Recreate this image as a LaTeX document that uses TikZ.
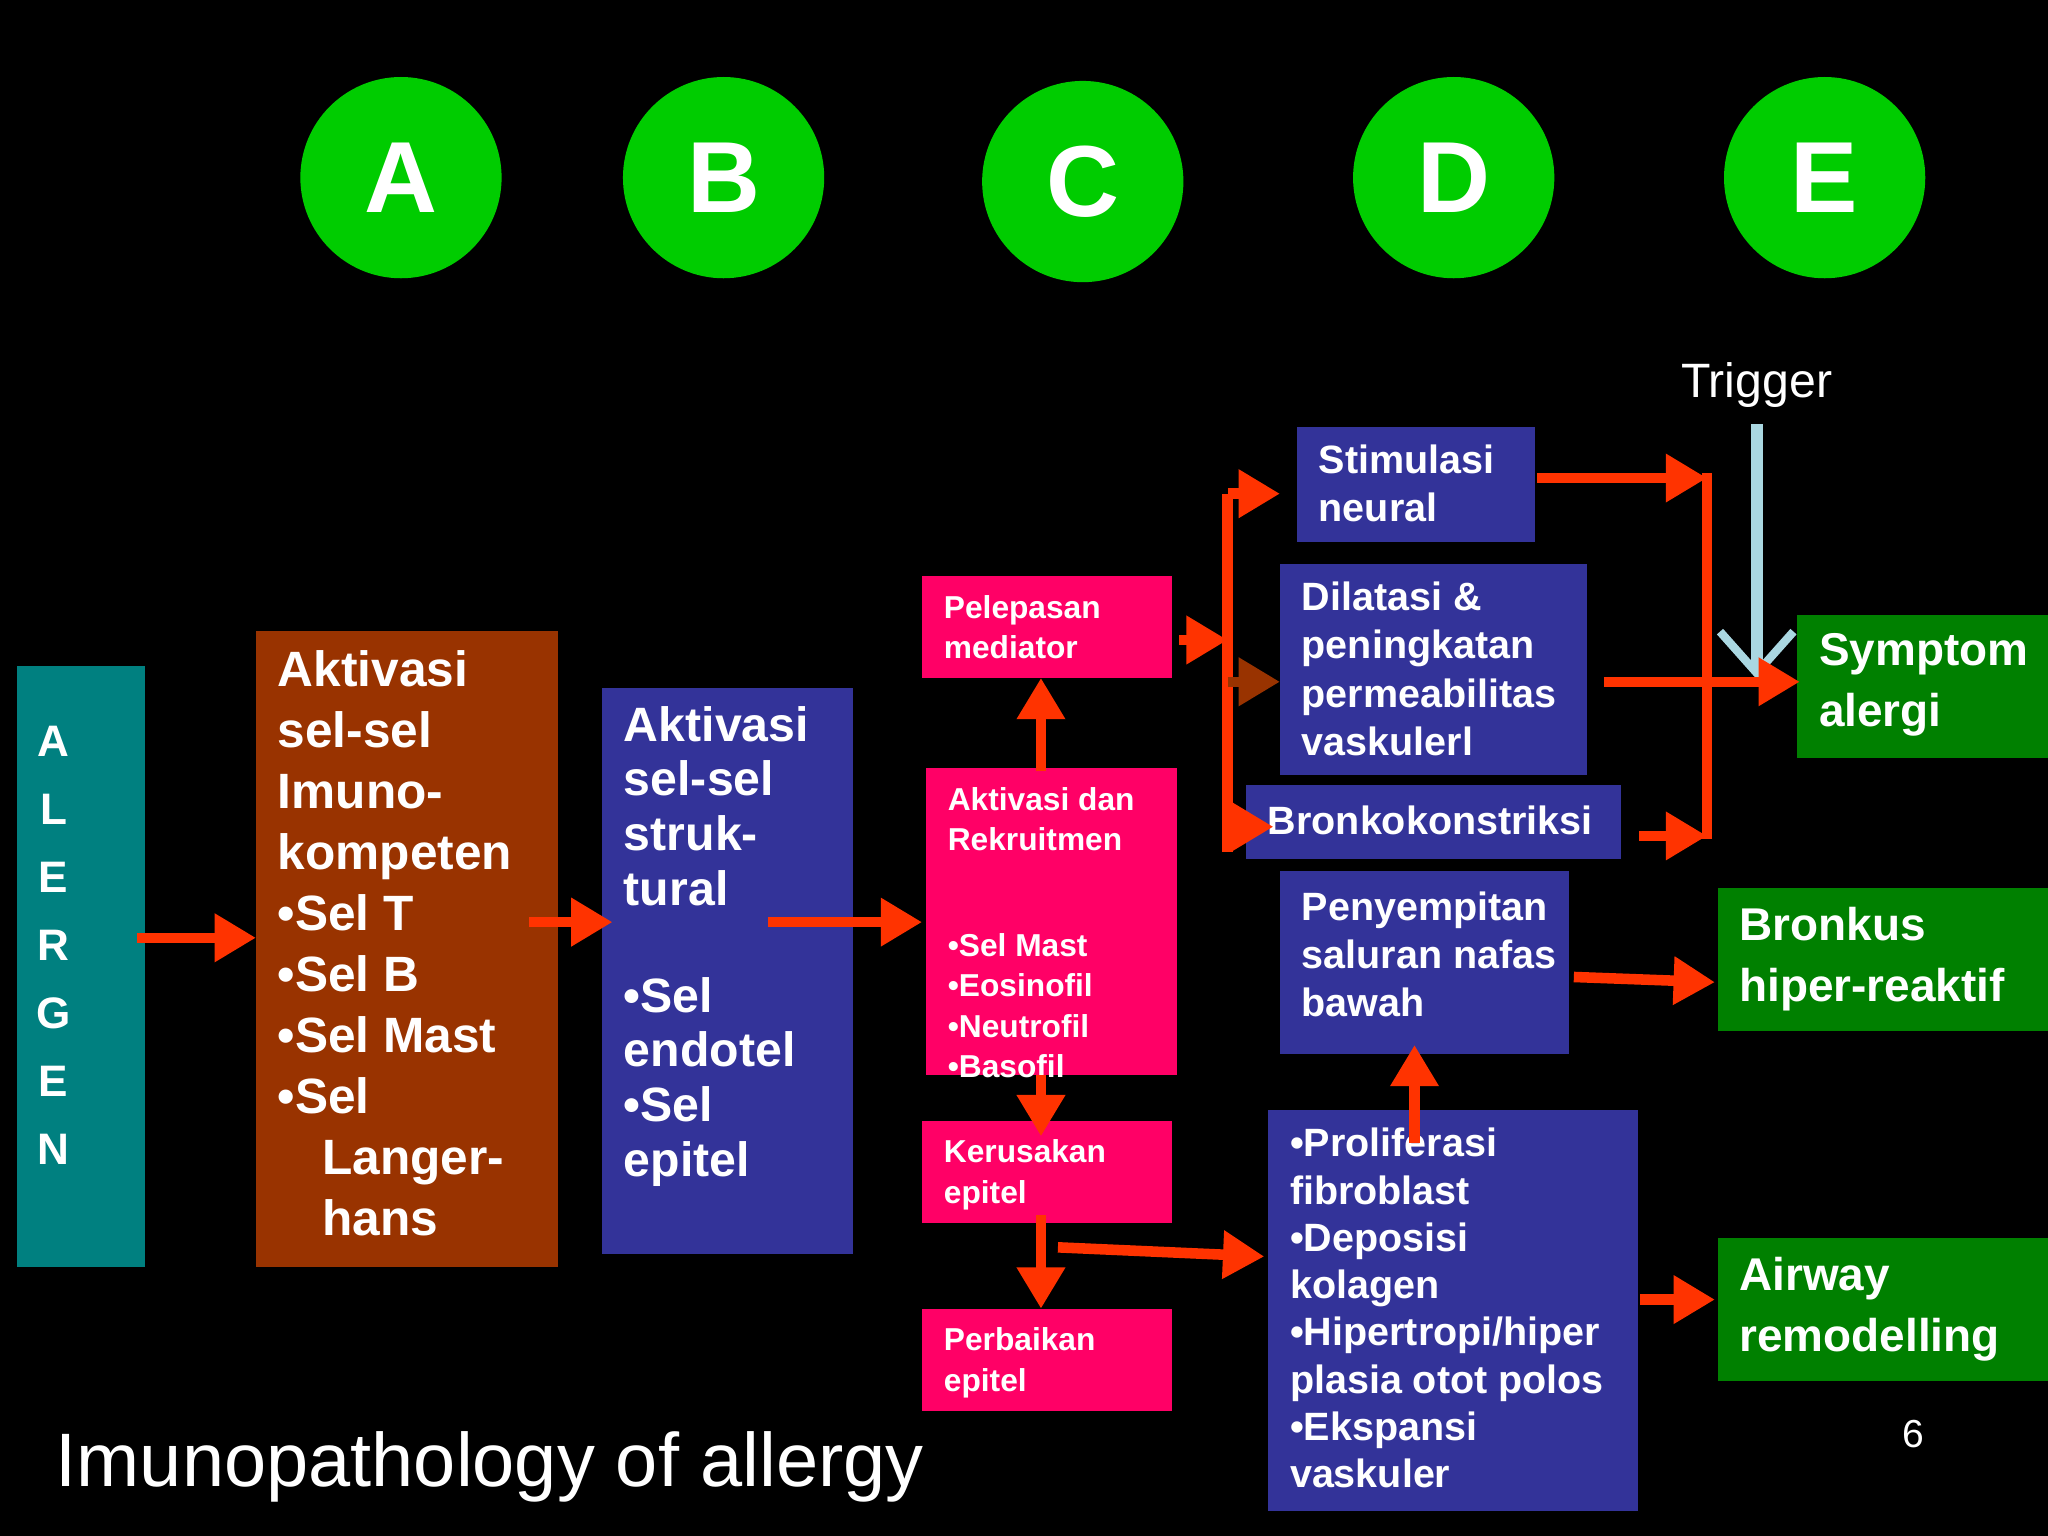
\documentclass[tikz,border=0pt]{standalone}
\usepackage{fontspec}
\setmainfont{Liberation Sans}
\usetikzlibrary{arrows.meta}
\definecolor{teal1}{RGB}{0,128,128}
\definecolor{brown1}{RGB}{153,51,0}
\definecolor{blue1}{RGB}{51,51,153}
\definecolor{pink1}{RGB}{255,0,102}
\definecolor{green1}{RGB}{0,128,0}
\definecolor{circ}{RGB}{0,204,0}
\definecolor{red1}{RGB}{255,51,0}
\definecolor{trig}{RGB}{170,215,225}
\begin{document}
\begin{tikzpicture}[x=0.01cm,y=-0.01cm,
 box/.style={fill=#1,draw=none},
 txt/.style={anchor=north west,align=left,text=white,font=\bfseries\fontsize{10.8}{13.3}\selectfont,inner sep=0pt},
 mid/.style={txt,font=\bfseries\fontsize{8.6}{10.5}\selectfont},
 small/.style={txt,font=\bfseries\fontsize{6.9}{8.8}\selectfont},
 arr/.style={draw=red1,line width=2.3pt,-{Triangle[length=9pt,width=10pt]}},
 ln/.style={draw=red1,line width=2.3pt},
 circle1/.style={circle,fill=circ,minimum size=4.4cm*0.35,inner sep=0pt,text=white,font=\bfseries\fontsize{22}{22}\selectfont}]
\fill[black] (0,0) rectangle (1568,1176);
\useasboundingbox (0,0) rectangle (1568,1176);
% circles
\node[circle1] (cA) at (307,136) {A};
\node[circle1] (cB) at (554,136) {B};
\node[circle1] (cC) at (829,139) {C};
\node[circle1] (cD) at (1113,136) {D};
\node[circle1] (cE) at (1397,136) {E};
% boxes
\fill[teal1] (13,510) rectangle (111,970);
\node[txt,anchor=north,align=center,font=\bfseries\fontsize{9.6}{14.8}\selectfont] (al) at (41,555) {A\\L\\E\\R\\G\\E\\N};
\coordinate (alR) at (105,718);
\fill[brown1] (196,483) rectangle (427,970);
\coordinate (brL) at (196,718);
\coordinate (brR) at (405,706);
\node[txt] (br) at (212,497) {Aktivasi\\sel-sel\\Imuno-\\kompeten\\•Sel T\\•Sel B\\•Sel Mast\\•Sel\\\hspace*{0.34cm}Langer-\\\hspace*{0.34cm}hans};
\fill[blue1] (461,527) rectangle (653,960);
\node[txt,font=\bfseries\fontsize{10.5}{11.9}\selectfont] (st) at (477,540) {Aktivasi\\sel-sel\\struk-\\tural\\[0.4cm]•Sel\\endotel\\•Sel\\epitel};
\coordinate (stL) at (469,706);
\coordinate (stR) at (588,706);
\fill[pink1] (706,441) rectangle (897,519);
\node[small] (pel) at (722,455) {Pelepasan\\mediator};
\fill[pink1] (709,588) rectangle (901,823);
\node[small] (akt) at (725,602) {Aktivasi dan\\Rekruitmen\\[0.5cm]•Sel Mast\\•Eosinofil\\•Neutrofil\\•Basofil};
\fill[pink1] (706,858) rectangle (897,936);
\node[small] (ker) at (722,872) {Kerusakan\\epitel};
\fill[pink1] (706,1002) rectangle (897,1080);
\node[small] (per) at (722,1016) {Perbaikan\\epitel};
\fill[blue1] (993,327) rectangle (1175,415);
\node[mid] (sti) at (1009,340) {Stimulasi\\neural};
\fill[blue1] (980,432) rectangle (1215,593);
\node[mid] (dil) at (996,445) {Dilatasi \&\\peningkatan\\permeabilitas\\vaskulerl};
\fill[blue1] (954,601) rectangle (1241,658);
\node[mid] (bro) at (970,616) {Bronkokonstriksi};
\fill[blue1] (980,667) rectangle (1201,807);
\node[mid] (pen) at (996,682) {Penyempitan\\saluran nafas\\bawah};
\fill[blue1] (971,850) rectangle (1254,1157);
\node[mid,font=\bfseries\fontsize{8.6}{10.3}\selectfont] (pro) at (987,863) {•Proliferasi\\fibroblast\\•Deposisi\\kolagen\\•Hipertropi/hiper\\plasia otot polos\\•Ekspansi\\vaskuler};
\fill[green1] (1376,471) rectangle (1568,580);
\node[txt,font=\bfseries\fontsize{10}{13.3}\selectfont] (sym) at (1392,484) {Symptom\\alergi};
\fill[green1] (1315,680) rectangle (1568,789);
\node[txt,font=\bfseries\fontsize{10}{13.3}\selectfont] (brk) at (1331,694) {Bronkus\\hiper-reaktif};
\fill[green1] (1315,948) rectangle (1568,1057);
\node[txt,font=\bfseries\fontsize{10}{13.3}\selectfont] (air) at (1331,962) {Airway\\remodelling};
% texts
\node[text=white,font=\fontsize{10.5}{12}\selectfont,inner sep=0pt] (trg) at (1345,295) {Trigger};
\node[text=white,anchor=base west,font=\fontsize{16.5}{18}\selectfont,inner sep=0pt] (title) at (42,1138) {Imunopathology of allergy};
\node[text=white,font=\fontsize{8.5}{10}\selectfont,inner sep=0pt] (pg) at (1465,1098) {6};
% trigger arrow
\coordinate (t1) at (1345,325); \coordinate (t2) at (1345,520);
\draw[trig,line width=2.6pt,-{Straight Barb[length=9pt,width=16pt,line width=1.8pt]}] (t1) -- (t2);
% arrows
\draw[arr] (alR) -- (brL);
\draw[arr] (brR) -- (stL);
\draw[arr] (stR) -- (706,706);
\draw[arr] (797,590) -- (797,519);
\draw[arr] (797,823) -- (797,870);
\draw[arr] (797,930) -- (797,1002);
\draw[arr] (810,955) -- (968,962);
\draw[arr] (1083,875) -- (1083,800);
\draw[arr] (1256,995) -- (1313,995);
\draw[arr] (1205,748) -- (1313,752);
\draw[arr] (903,490) -- (940,490);
\draw[ln] (940,378) -- (940,652);
\draw[arr] (940,378) -- (980,378);
\draw[arr,draw=brown1] (940,522) -- (980,522);
\draw[arr] (940,633) -- (975,633);
\draw[arr] (1177,366) -- (1307,366);
\draw[ln] (1307,362) -- (1307,642);
\draw[arr] (1228,522) -- (1378,522);
\draw[arr] (1255,640) -- (1307,640);
\end{tikzpicture}
\end{document}
